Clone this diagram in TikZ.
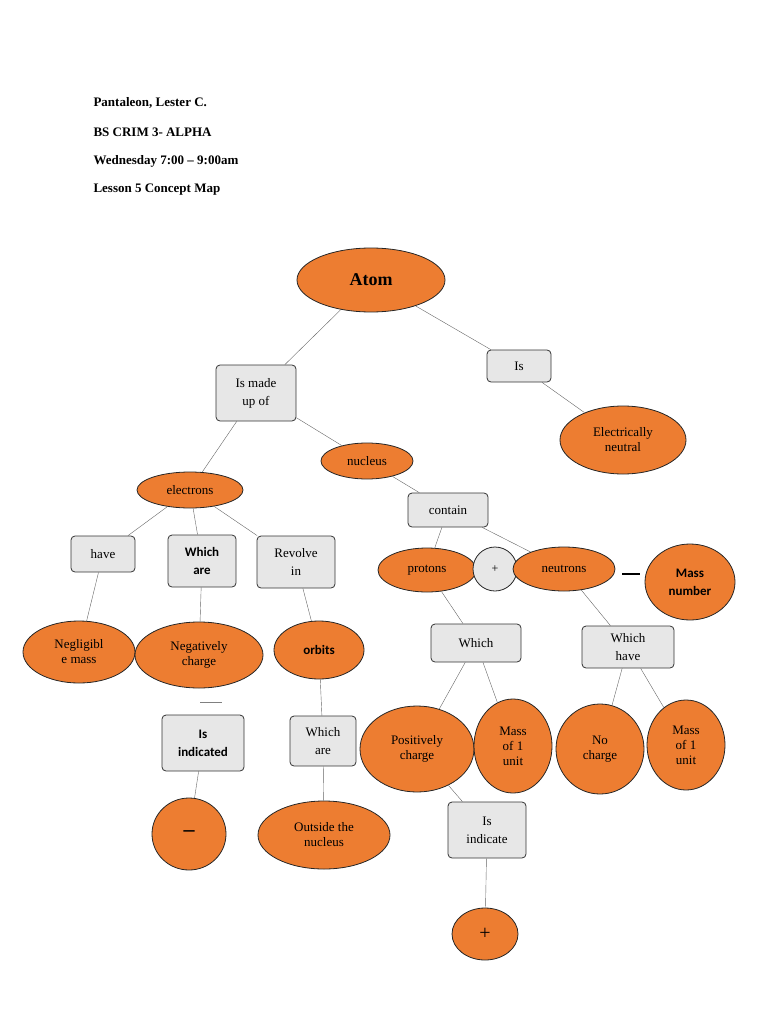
\documentclass[tikz,border=0pt]{standalone}
\usepackage{fontspec}
\usetikzlibrary{shapes.geometric}
\setmainfont{Liberation Serif}
\newfontfamily\calib{Carlito}
\definecolor{org}{RGB}{237,125,49}
\definecolor{boxgray}{RGB}{231,231,231}
\begin{document}
\begin{tikzpicture}[x=1pt,y=-1pt]
            \tikzset{oval/.style = {shape=ellipse, draw=black!85, thick, fill=org, inner sep=0pt, align=center, font=\fontsize{13}{15}\selectfont},
                     term/.style = {shape=rectangle, rounded corners=4pt, draw=black!80, thick, fill=boxgray, inner sep=0pt, align=center, font=\fontsize{13}{18}\selectfont},
                     link/.style = {draw=black!60, thin}}
            \useasboundingbox (0,0) rectangle (768,1024);

            \node[anchor=west, font=\bfseries\fontsize{13}{15}\selectfont] (name) at (90,103) {Pantaleon, Lester C.};
            \node[anchor=west, font=\bfseries\fontsize{13}{15}\selectfont] (course) at (90,132) {BS CRIM 3- ALPHA};
            \node[anchor=west, font=\bfseries\fontsize{13}{15}\selectfont] (sched) at (90,161) {Wednesday 7:00 -- 9:00am};
            \node[anchor=west, font=\bfseries\fontsize{13}{15}\selectfont] (lesson) at (90,190) {Lesson 5 Concept Map};

            \node[oval, minimum width=148, minimum height=64, font=\bfseries\fontsize{18}{20}\selectfont] (atom) at (371,280) {Atom};
            \node[term, minimum width=80, minimum height=56] (made) at (256,393) {Is made\\up of};
            \node[term, minimum width=64, minimum height=32] (is) at (519,366) {Is};
            \node[oval, minimum width=126, minimum height=68] (neutral) at (623,440) {Electrically\\neutral};
            \node[oval, minimum width=92, minimum height=36] (nucleus) at (367,461) {nucleus};
            \node[oval, minimum width=106, minimum height=36] (electrons) at (190,490) {electrons};
            \node[term, minimum width=80, minimum height=34] (contain) at (448,510) {contain};

            \node[term, minimum width=64, minimum height=36] (have) at (103,554) {have};
            \node[term, minimum width=68, minimum height=52, font=\calib\bfseries\fontsize{13}{18}\selectfont] (whichneg) at (202,561) {Which\\are};
            \node[term, minimum width=78, minimum height=52] (revolve) at (296,562) {Revolve\\in};
            \node[oval, minimum width=98, minimum height=44] (protons) at (427,570) {protons};
            \node[circle, draw=black!85, thick, fill=boxgray, minimum size=44, font=\fontsize{12}{14}\selectfont] (plus) at (495,569) {+};
            \node[oval, minimum width=102, minimum height=44] (neutrons) at (564,569) {neutrons};
            \node[oval, minimum width=90, minimum height=76, font=\calib\bfseries\fontsize{13}{18}\selectfont] (massnum) at (690,582) {Mass\\number};
            \draw[line width=2pt] (622,574) -- (640,574);

            \node[oval, minimum width=112, minimum height=62] (negl) at (79,652) {Negligibl\\e mass};
            \node[oval, minimum width=128, minimum height=66] (negch) at (199,655) {Negatively\\charge};
            \node[oval, minimum width=90, minimum height=58, font=\calib\bfseries\fontsize{13}{15}\selectfont] (orbits) at (319,650) {orbits};
            \node[term, minimum width=90, minimum height=38] (whichp) at (476,643) {Which};
            \node[term, minimum width=92, minimum height=42] (whichn) at (628,647) {Which\\have};
            \draw[draw=black!50, line width=1pt] (200,702) -- (222,702);

            \node[term, minimum width=82, minimum height=56, font=\calib\bfseries\fontsize{13}{18}\selectfont] (indic) at (203,743) {Is\\indicated};
            \node[term, minimum width=66, minimum height=50] (whicho) at (323,741) {Which\\are};
            \node[oval, minimum width=114, minimum height=86] (posch) at (417,749) {Positively\\charge};
            \node[oval, minimum width=78, minimum height=94] (massp) at (513,746) {Mass\\of 1\\unit};
            \node[oval, minimum width=88, minimum height=90] (noch) at (600,749) {No\\charge};
            \node[oval, minimum width=78, minimum height=90] (massn) at (686,745) {Mass\\of 1\\unit};

            \node[oval, minimum width=74, minimum height=72, font=\bfseries\fontsize{22}{24}\selectfont] (minus) at (189,834) {--};
            \node[oval, minimum width=132, minimum height=68] (outside) at (324,835) {Outside the\\nucleus};
            \node[term, minimum width=78, minimum height=56] (indicp) at (487,830) {Is\\indicate};
            \node[oval, minimum width=66, minimum height=52, font=\fontsize{20}{22}\selectfont] (plussign) at (485,934) {+};

            \draw[link] (atom) -- (made);
            \draw[link] (atom) -- (is);
            \draw[link] (is) -- (neutral);
            \draw[link] (made) -- (electrons);
            \draw[link] (made) -- (nucleus);
            \draw[link] (nucleus) -- (contain);
            \draw[link] (electrons) -- (have);
            \draw[link] (electrons) -- (whichneg);
            \draw[link] (electrons) -- (revolve);
            \draw[link] (contain) -- (protons);
            \draw[link] (contain) -- (neutrons);
            \draw[link] (protons) -- (whichp);
            \draw[link] (neutrons) -- (whichn);
            \draw[link] (have) -- (negl);
            \draw[link] (whichneg) -- (negch);
            \draw[link] (revolve) -- (orbits);
            \draw[link] (orbits) -- (whicho);
            \draw[link] (whichp) -- (posch);
            \draw[link] (whichp) -- (massp);
            \draw[link] (whichn) -- (noch);
            \draw[link] (whichn) -- (massn);
            \draw[link] (indic) -- (minus);
            \draw[link] (whicho) -- (outside);
            \draw[link] (posch) -- (indicp);
            \draw[link] (indicp) -- (plussign);
\end{tikzpicture}
\end{document}
